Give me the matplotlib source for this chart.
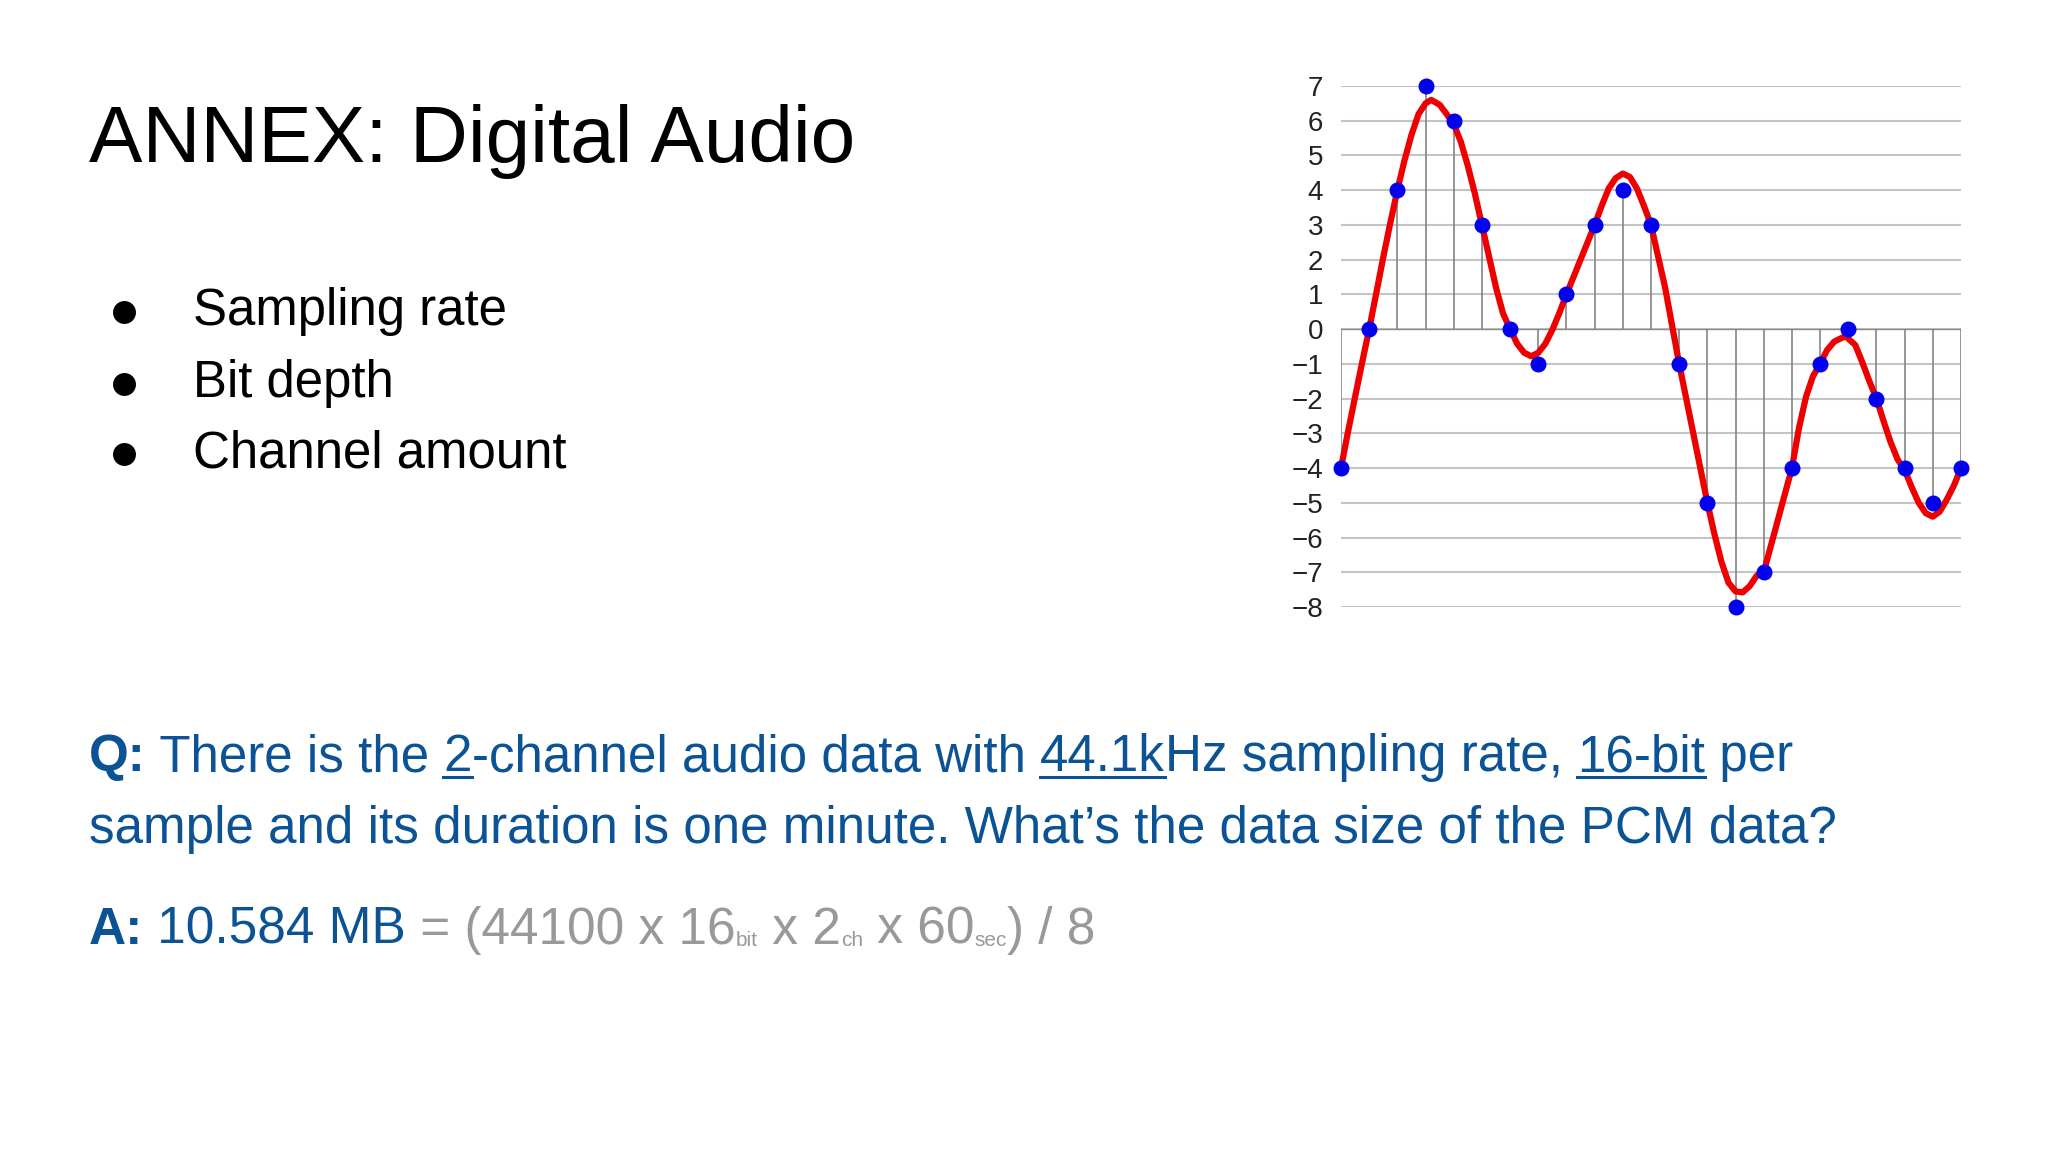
import matplotlib
matplotlib.use("Agg")
import matplotlib.pyplot as plt
from matplotlib.lines import Line2D

# sampled signal (integer levels)
sample_x = list(range(23))
sample_y = [-4, 0, 4, 7, 6, 3, 0, -1, 1, 3, 4, 3, -1, -5, -8, -7, -4, -1, 0, -2, -4, -5, -4]

# analog curve at quarter-sample steps
curve_x = [0, 0.25, 0.5, 0.75, 1, 1.25, 1.5, 1.75, 2, 2.25, 2.5, 2.75,
           3, 3.2, 3.5, 3.75, 4, 4.25, 4.5, 4.75, 5, 5.25, 5.5, 5.75,
           6, 6.25, 6.5, 6.75, 7, 7.25, 7.5, 7.75, 8, 8.25, 8.5, 8.75,
           9, 9.25, 9.5, 9.75, 10, 10.25, 10.5, 10.75, 11, 11.25, 11.5, 11.75,
           12, 12.25, 12.5, 12.75, 13, 13.25, 13.5, 13.75, 14, 14.25, 14.5, 14.75,
           15, 15.25, 15.5, 15.75, 16, 16.25, 16.5, 16.75, 17, 17.25, 17.5, 17.9,
           18.25, 18.5, 18.75, 19, 19.25, 19.5, 19.75, 20, 20.25, 20.5, 20.75,
           21, 21.25, 21.5, 21.75, 22]
curve_y = [-4.0, -2.95, -1.95, -0.96, 0.0, 1.03, 2.07, 3.06, 4.0, 4.85, 5.59, 6.19,
           6.5, 6.6, 6.46, 6.19, 5.9, 5.4, 4.7, 3.9, 3.0, 2.1, 1.2, 0.45,
           0.0, -0.42, -0.68, -0.78, -0.68, -0.42, -0.02, 0.47, 1.0, 1.5, 2.0, 2.5,
           3.0, 3.55, 4.05, 4.35, 4.48, 4.38, 4.05, 3.55, 3.0, 2.1, 1.2, 0.1,
           -1.0, -2.0, -3.0, -4.0, -5.0, -5.9, -6.7, -7.3, -7.55, -7.58, -7.4, -7.1,
           -7.0, -6.25, -5.5, -4.75, -4.0, -2.85, -1.95, -1.35, -1.0, -0.6, -0.36, -0.2,
           -0.46, -0.96, -1.5, -2.0, -2.64, -3.25, -3.75, -4.05, -4.55, -5.0, -5.3,
           -5.4, -5.25, -4.9, -4.5, -4.0]

y_levels = list(range(-8, 8))

title = "ANNEX: Digital Audio"
bullets = ["Sampling rate", "Bit depth", "Channel amount"]

BLUE = "#0b5394"
GRAY = "#999999"
FONT = "Liberation Sans"

W, H = 2048, 1152
plt.rcParams['font.family'] = [FONT, 'DejaVu Sans']

fig = plt.figure(figsize=(W / 100, H / 100), dpi=100)
fig.patch.set_facecolor("white")

# ---- chart ----
ax_l, ax_r, ax_t, ax_b = 1341, 1961, 86, 607
ax = fig.add_axes([ax_l / W, 1 - ax_b / H, (ax_r - ax_l) / W, (ax_b - ax_t) / H])
ax.set_xlim(0, 22)
ax.set_ylim(-8, 7)
for s in ax.spines.values():
    s.set_visible(False)
ax.set_xticks([])
ax.set_yticks(y_levels)
ax.tick_params(axis='y', length=0, pad=13, labelsize=20, labelcolor="#222222")
ax.yaxis.grid(True, color="#c4c4c4", linewidth=1.5)
ax.set_axisbelow(True)
ax.axhline(0, color="#8c8c8c", linewidth=1.0, zorder=1)
ax.vlines(sample_x, 0, sample_y, color="#858585", linewidth=1.2, zorder=1)
ax.plot(curve_x, curve_y, color="#ee0000", linewidth=4.5, zorder=2,
        solid_capstyle='round', solid_joinstyle='round', clip_on=False)
ax.plot(sample_x, sample_y, linestyle='none', marker='o', markersize=10.5,
        color="#0000ee", zorder=3, clip_on=False)

# ---- text ----
fig.text(89 / W, 1 - 162 / H, title, fontsize=57.7, color="black", family=FONT)

bullet_base = [325, 397, 467]
for yb, txt in zip(bullet_base, bullets):
    fig.add_artist(Line2D([124 / W], [1 - (yb - 13) / H], marker='o', markersize=15.5,
                          color="black", linestyle='none'))
    fig.text(193 / W, 1 - yb / H, txt, fontsize=36.7, color="black", family=FONT)

renderer = fig.canvas.get_renderer()


def advance(txt, size, weight):
    t = fig.text(0, 0, "|" + txt + "|", fontsize=size, weight=weight, family=FONT)
    t2 = fig.text(0, 0, "||", fontsize=size, weight=weight, family=FONT)
    w = t.get_window_extent(renderer).width - t2.get_window_extent(renderer).width
    t.remove()
    t2.remove()
    return w


def put_runs(x, y, runs):
    # runs: (text, color, weight, size, underline, dy)
    for txt, color, weight, size, under, dy in runs:
        fig.text(x, H - y + dy, txt, transform=None, fontsize=size, weight=weight,
                 color=color, family=FONT)
        w = advance(txt, size, weight)
        if under:
            fig.add_artist(Line2D([x, x + w], [H - y - 6, H - y - 6], transform=None,
                                  color=color, linewidth=2.2))
        x += w


QS = 36.8
q_line1 = [
    ("Q:", BLUE, "bold", QS, False, 0),
    (" There is the ", BLUE, "normal", QS, False, 0),
    ("2", BLUE, "normal", QS, True, 0),
    ("-channel audio data with ", BLUE, "normal", QS, False, 0),
    ("44.1k", BLUE, "normal", QS, True, 0),
    ("Hz sampling rate, ", BLUE, "normal", QS, False, 0),
    ("16-bit", BLUE, "normal", QS, True, 0),
    (" per", BLUE, "normal", QS, False, 0),
]
q_line2 = [
    ("sample and its duration is one minute. What\u2019s the data size of the PCM data?",
     BLUE, "normal", QS, False, 0),
]
AS = 37
SUB = 15
a_line = [
    ("A:", BLUE, "bold", AS, False, 0),
    (" 10.584 MB", BLUE, "normal", AS, False, 0),
    (" = (44100 x 16", GRAY, "normal", AS, False, 0),
    ("bit", GRAY, "normal", SUB, False, -2),
    (" x 2", GRAY, "normal", AS, False, 0),
    ("ch", GRAY, "normal", SUB, False, -2),
    (" x 60", GRAY, "normal", AS, False, 0),
    ("sec", GRAY, "normal", SUB, False, -2),
    (") / 8", GRAY, "normal", AS, False, 0),
]

put_runs(89, 771, q_line1)
put_runs(89, 843, q_line2)
put_runs(89, 944, a_line)

fig.savefig("out.png", dpi=100, facecolor="white")
